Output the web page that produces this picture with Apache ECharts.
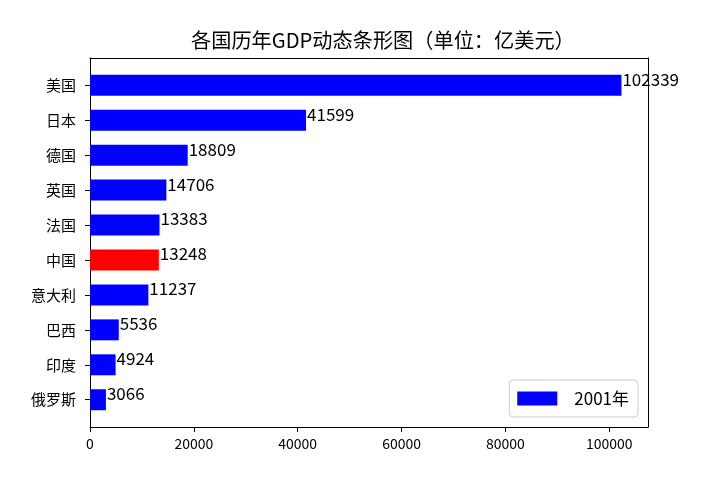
<!DOCTYPE html>
<html>
<head>
<meta charset="utf-8">
<script src="https://cdn.jsdelivr.net/npm/echarts@6/dist/echarts.min.js"></script>
<style>html,body{margin:0;padding:0;background:#fff}#c{width:720px;height:480px}</style>
</head>
<body>
<div id="c"></div>
<script>
var countries = ['美国','日本','德国','英国','法国','中国','意大利','巴西','印度','俄罗斯'];
var values = [102339,41599,18809,14706,13383,13248,11237,5536,4924,3066];
var highlight = '中国';
var seriesName = '2001年';
var titleText = '各国历年GDP动态条形图（单位：亿美元）';

var FONT = '"Noto Sans CJK SC", "Noto Sans", sans-serif';
var xMax = Math.max.apply(null, values) * 1.05;
var L = 90, R = 72, T = 58, B = 53;
var plotH = 480 - T - B;           // 369
var unit = plotH / 10.56;          // matplotlib margins
var inner = unit * 0.28;

var chart = echarts.init(document.getElementById('c'), null, {renderer: 'canvas'});
var data = values.map(function (v, i) {
  return countries[i] === highlight ? {value: v, itemStyle: {color: '#ff0000'}} : v;
});
var frameLine = {show: true, onZero: false, lineStyle: {color: '#000', width: 1}};
chart.setOption({
  animation: false,
  backgroundColor: '#ffffff',
  title: {
    text: titleText, left: 186, top: 25,
    textStyle: {fontFamily: FONT, fontSize: 20.2, fontWeight: 'normal', color: '#000'}
  },
  legend: {
    right: 82, bottom: 63, orient: 'vertical',
    data: [{name: seriesName, icon: 'rect'}],
    itemWidth: 40, itemHeight: 14,
    backgroundColor: '#fff', borderColor: '#cccccc', borderWidth: 1, borderRadius: 4,
    padding: [10, 9, 10, 8],
    textStyle: {fontFamily: FONT, fontSize: 17, color: '#000', padding: [0, 0, 0, 12], lineHeight: 14}
  },
  grid: [
    {left: L, right: R, top: T, bottom: B},
    {left: L, right: R, top: T + inner, bottom: B + inner}
  ],
  xAxis: [
    {gridIndex: 0, type: 'value', min: 0, max: xMax, interval: 20000, position: 'bottom',
      axisLine: frameLine,
      axisTick: {show: true, inside: false, length: 5, lineStyle: {color: '#000'}},
      axisLabel: {fontFamily: FONT, fontSize: 14, color: '#000', margin: 10, showMaxLabel: false,
        formatter: function (v) { return String(v); }},
      splitLine: {show: false}},
    {gridIndex: 0, type: 'value', min: 0, max: xMax, position: 'top',
      axisLine: frameLine,
      axisTick: {show: false}, axisLabel: {show: false}, splitLine: {show: false}},
    {gridIndex: 1, type: 'value', min: 0, max: xMax, show: false, splitLine: {show: false}}
  ],
  yAxis: [
    {gridIndex: 0, type: 'value', position: 'left', min: 0, max: 1,
      axisLine: frameLine,
      axisTick: {show: false}, axisLabel: {show: false}, splitLine: {show: false}},
    {gridIndex: 0, type: 'value', position: 'right', min: 0, max: 1,
      axisLine: frameLine,
      axisTick: {show: false}, axisLabel: {show: false}, splitLine: {show: false}},
    {gridIndex: 1, type: 'category', data: countries, inverse: true,
      axisLine: {show: false},
      axisTick: {show: true, alignWithLabel: true, inside: false, length: 5, lineStyle: {color: '#000'}},
      axisLabel: {fontFamily: FONT, fontSize: 15, color: '#000', margin: 14},
      splitLine: {show: false}}
  ],
  series: [{
    name: seriesName, type: 'bar', xAxisIndex: 2, yAxisIndex: 2,
    data: data, barWidth: '60%',
    itemStyle: {color: '#0000ff'},
    label: {show: true, position: 'right', distance: 1, offset: [0, -6],
      fontFamily: FONT, fontSize: 17, color: '#000'}
  }]
});
</script>
</body>
</html>
